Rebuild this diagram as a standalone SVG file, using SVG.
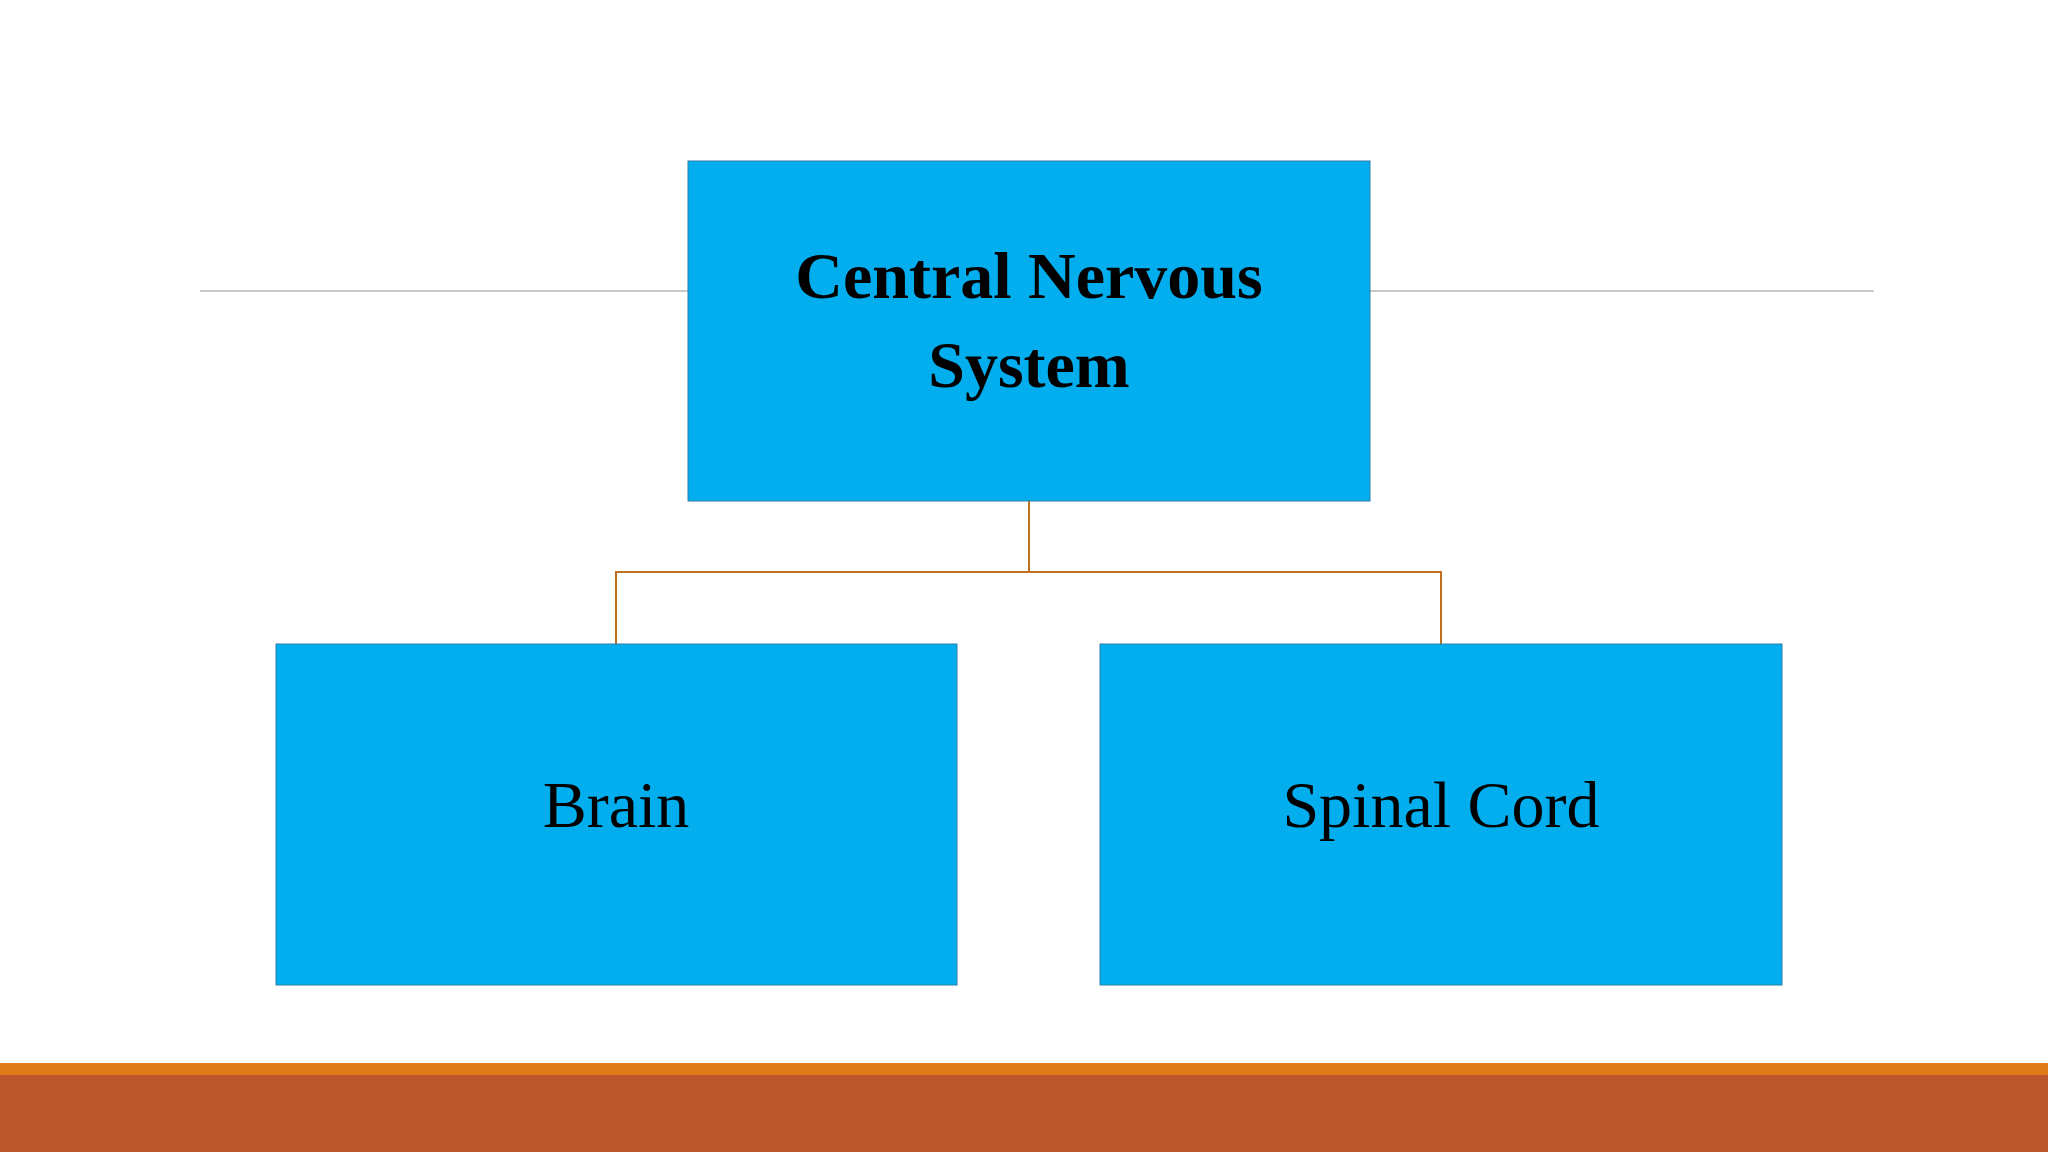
<svg xmlns="http://www.w3.org/2000/svg" width="2048" height="1152" viewBox="0 0 2048 1152">
<style>
.box{fill:#03AEEE;stroke:#2a7fa8;stroke-width:1}
.t{font-family:"Liberation Serif",serif;font-size:66px;fill:#000;text-anchor:middle}
.conn{fill:none;stroke:#C0701F;stroke-width:2}
</style>
<rect width="2048" height="1152" fill="#fff"/>
<line x1="200" y1="291" x2="1874" y2="291" stroke="#b8b8b8" stroke-width="1.5"/>
<rect x="0" y="1063" width="2048" height="12" fill="#E07B1A"/>
<rect x="0" y="1075" width="2048" height="77" fill="#BE562B"/>
<g id="connectors">
<path class="conn" d="M1029 501V572M616 644V572H1441V644"/>
</g>
<g id="cns">
<rect class="box" x="688" y="161" width="682" height="340"/>
<text class="t" x="1029" y="298" font-weight="bold">Central Nervous</text>
<text class="t" x="1029" y="387" font-weight="bold">System</text>
</g>
<g id="brain">
<rect class="box" x="276" y="644" width="681" height="341"/>
<text class="t" x="616" y="827">Brain</text>
</g>
<g id="spinal">
<rect class="box" x="1100" y="644" width="682" height="341"/>
<text class="t" x="1441" y="827">Spinal Cord</text>
</g>
</svg>
